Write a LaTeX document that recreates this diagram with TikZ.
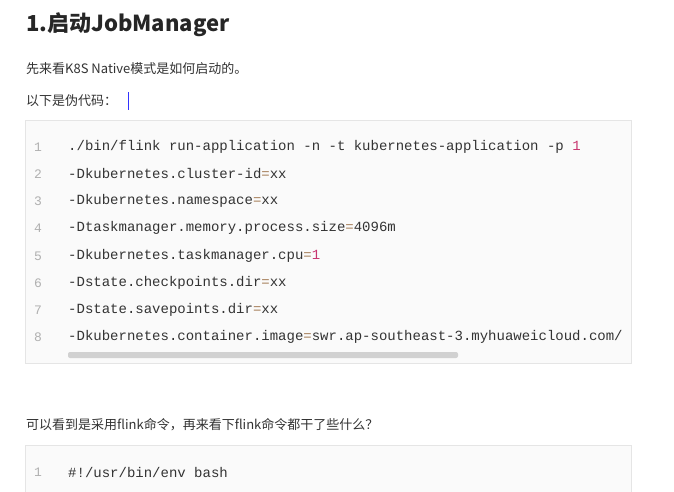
\documentclass[tikz,border=0pt]{standalone}
\usepackage{fontspec}
\setmainfont{Noto Sans CJK SC}
\newfontfamily\codef{Liberation Mono}
\newfontfamily\cjkb[BoldFont={Noto Sans CJK SC Bold}]{Noto Sans CJK SC}
\definecolor{numc}{HTML}{B0B0B0}
\definecolor{codec}{HTML}{333333}
\definecolor{eqc}{HTML}{A67F59}
\definecolor{onec}{HTML}{C8366F}
\tikzset{
 body/.style={anchor=west,inner sep=0,text=codec,font=\fontsize{13}{13}\selectfont},
 ln/.style={anchor=west,inner sep=0,text=numc,font=\codef\fontsize{13}{13}\selectfont},
 code/.style={anchor=west,inner sep=0,text=codec,font=\codef\fontsize{14}{14}\selectfont},
 box/.style={draw=black!10,fill=black!2,line width=0.8pt}
}
\newcommand{\eq}{\textcolor{eqc}{=}}
\begin{document}
\begin{tikzpicture}[x=1pt,y=-1pt]
\useasboundingbox[fill=white] (0,0) rectangle (674,491);
\node[anchor=west,inner sep=0,text=black!85,font=\bfseries\fontsize{22}{22}\selectfont] (title) at (26,25) {1.启动JobManager};
\node[body] (p1) at (26,69) {先来看K8S Native模式是如何启动的。};
\node[body] (p2) at (26,101) {以下是伪代码：};
\draw[blue!80,line width=0.8pt] (128,92) -- (128,110);
\draw[box] (25,120) rectangle (631,363);
\fill[black!18,rounded corners=2pt] (68,352) rectangle (458,358);
\foreach \i/\y in {1/147,2/174,3/201,4/228,5/256,6/283,7/310,8/337}
  \node[ln] (n\i) at (34,\y) {\i};
\node[code] (c1) at (68,147) {./bin/flink run-application -n -t kubernetes-application -p \textcolor{onec}{1}};
\node[code] (c2) at (68,174) {-Dkubernetes.cluster-id\eq xx};
\node[code] (c3) at (68,201) {-Dkubernetes.namespace\eq xx};
\node[code] (c4) at (68,228) {-Dtaskmanager.memory.process.size\eq 4096m};
\node[code] (c5) at (68,256) {-Dkubernetes.taskmanager.cpu\eq\textcolor{onec}{1}};
\node[code] (c6) at (68,283) {-Dstate.checkpoints.dir\eq xx};
\node[code] (c7) at (68,310) {-Dstate.savepoints.dir\eq xx};
\begin{scope}
\clip (25,320) rectangle (621,350);
\node[code] (c8) at (68,337) {-Dkubernetes.container.image\eq swr.ap-southeast-3.myhuaweicloud.com/xx};
\end{scope}
\node[body] (p3) at (26,425) {可以看到是采用flink命令，再来看下flink命令都干了些什么？};
\draw[box] (25,445) rectangle (631,495);
\node[ln] (m1) at (34,472) {1};
\node[code] (d1) at (68,472) {\#!/usr/bin/env bash};
\end{tikzpicture}
\end{document}
